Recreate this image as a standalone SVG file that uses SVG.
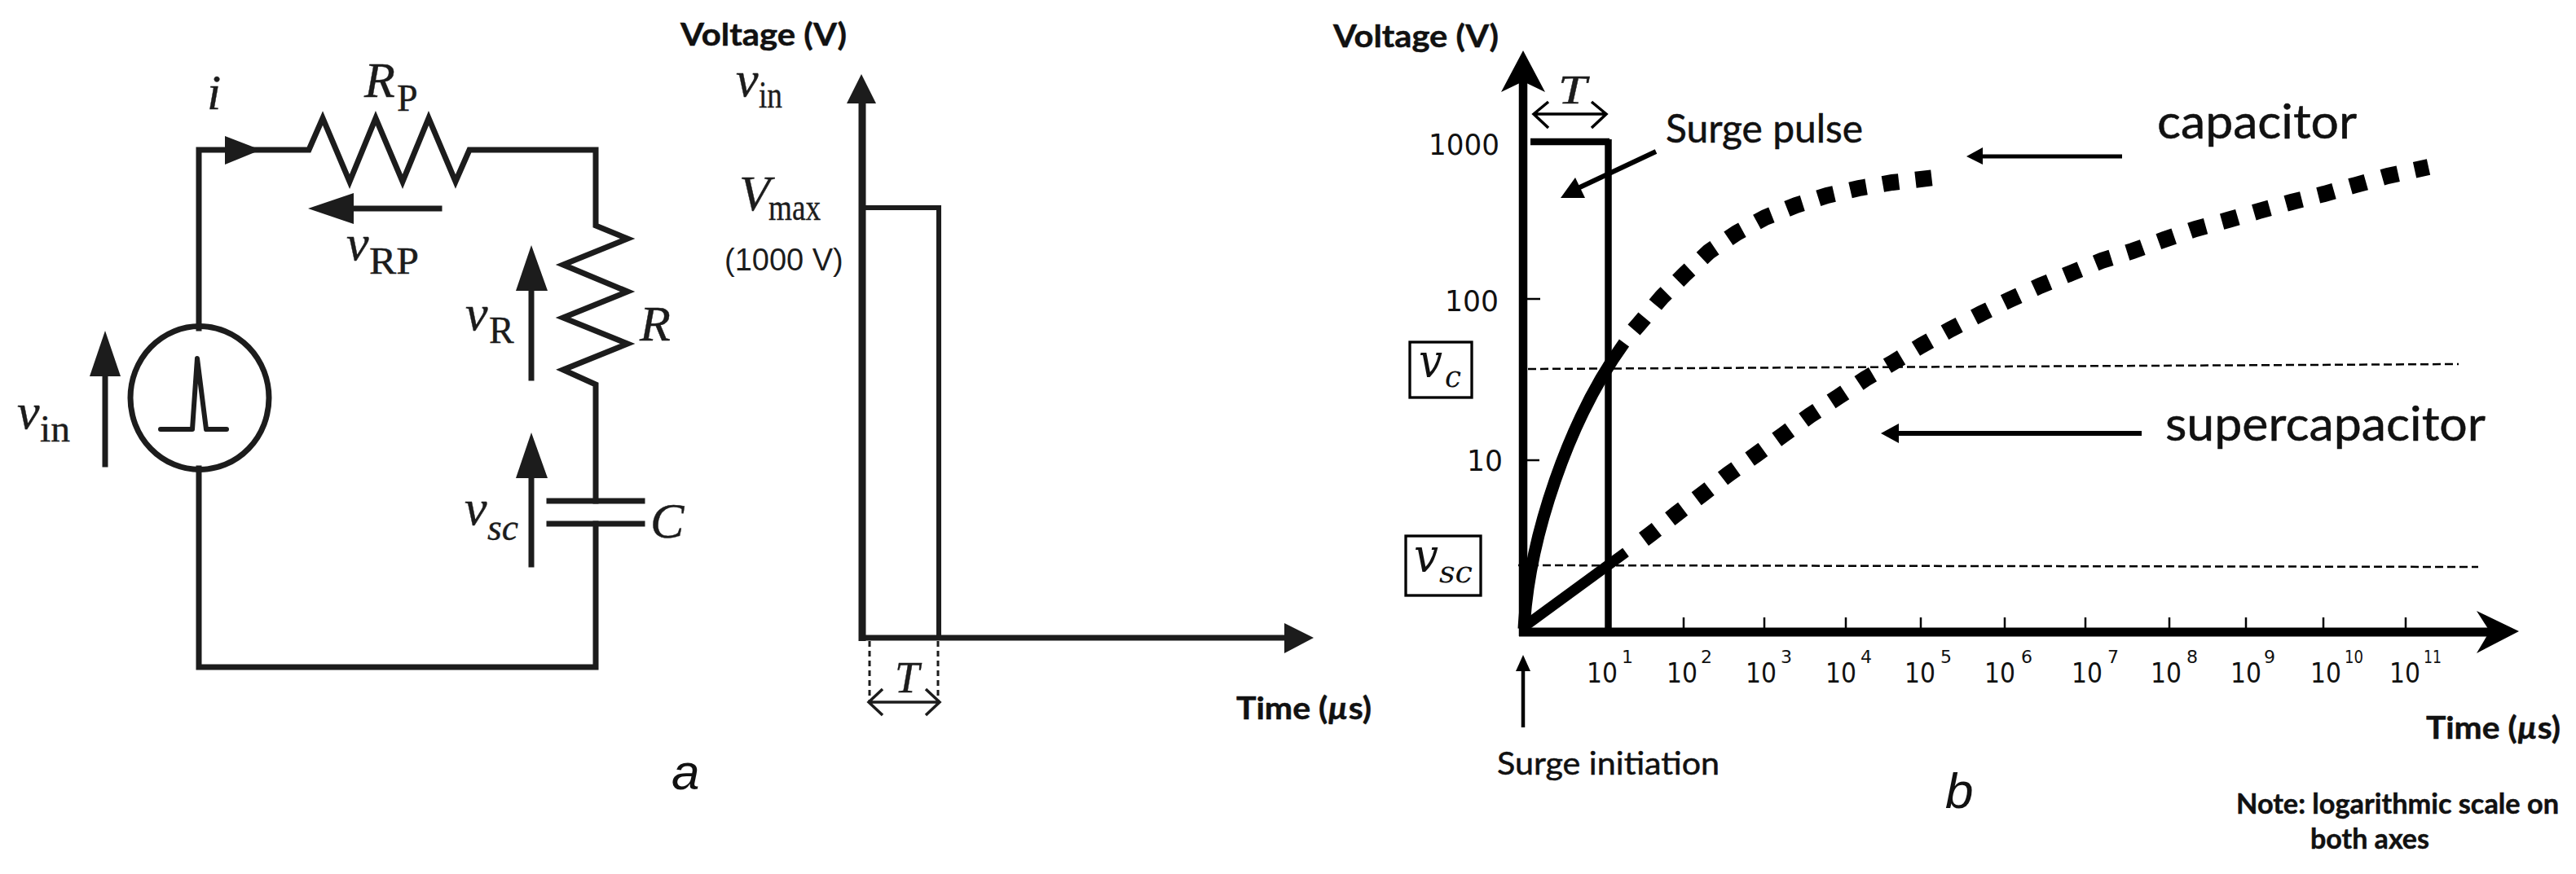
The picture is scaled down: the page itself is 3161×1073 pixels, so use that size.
<svg xmlns="http://www.w3.org/2000/svg" width="3161" height="1073" viewBox="0 0 3161 1073">
<style>
.w{fill:none;stroke:#1c1c1c;stroke-width:7;stroke-linejoin:miter;stroke-linecap:square}
.f{fill:#1c1c1c;stroke:none}
.k{fill:#000;stroke:none}
.l{fill:none;stroke:#000;stroke-linecap:butt}
.ti{font-family:"Liberation Serif",serif;font-style:italic;font-size:62px;fill:#1c1c1c;stroke:#1c1c1c;stroke-width:.4}
.tr{font-family:"Liberation Serif",serif;font-size:46px;fill:#1c1c1c;stroke:#1c1c1c;stroke-width:.4}
.ts{font-family:"Liberation Serif",serif;font-style:italic;font-size:46px;fill:#1c1c1c;stroke:#1c1c1c;stroke-width:.4}
.b{font-family:Lato,sans-serif;font-weight:700;font-size:38px;fill:#111;stroke:#111;stroke-width:.5}
.o{font-family:Lato,sans-serif;font-size:48px;fill:#111;stroke:#111;stroke-width:.5}
.d{font-family:"DejaVu Sans",sans-serif;font-size:34px;fill:#111}
.u{font-family:"DejaVu Sans",sans-serif;font-size:22px;fill:#111}
.m{font-family:"DejaVu Serif",serif;font-style:italic;fill:#111}
.p{font-family:"Liberation Sans",sans-serif;font-style:italic;font-size:62px;fill:#111}
</style>
<g id="circuit">
<g id="wires"><path class="w" d="M244 403V184H379L396 145L429 223L461 145L494 223L526 145L559 223L576 184H731V277L770 293L691 325L770 358L691 390L770 422L691 454L731 472V615M731 643V819H244V575"/></g>
<g id="source"><ellipse cx="245" cy="488.500" rx="85" ry="88" fill="none" stroke="#1c1c1c" stroke-width="7"/><path d="M197 527H236L242 440L253 527H278" fill="none" stroke="#1c1c1c" stroke-width="6" stroke-linecap="round" stroke-linejoin="round"/></g>
<g id="capacitor-symbol"><path class="w" d="M674 615H788M674 643H788" stroke-linecap="butt"/></g>
<g id="current-arrow"><polygon class="f" points="276,167 320,184 276,202"/><text class="ti" x="254" y="134">i</text></g>
<g id="rp-label"><text class="ti" x="447" y="119">R</text><text class="tr" x="487" y="136">P</text></g>
<g id="vrp"><path class="w" d="M539 256H430"/><polygon class="f" points="378,256 434,237 434,275"/><text class="ti" x="425" y="319">v</text><text class="tr" x="453" y="336" textLength="61" lengthAdjust="spacingAndGlyphs">RP</text></g>
<g id="vr"><path class="w" d="M652 464V350"/><polygon class="f" points="652,301 672,357 633,357"/><text class="ti" x="571" y="405">v</text><text class="tr" x="600" y="421">R</text><text class="ti" x="785" y="418">R</text></g>
<g id="vsc"><path class="w" d="M652 693V580"/><polygon class="f" points="652,531 672,587 633,587"/><text class="ti" x="570" y="644">v</text><text class="ts" x="598" y="663" textLength="38" lengthAdjust="spacingAndGlyphs">sc</text><text class="ti" x="798" y="660">C</text></g>
<g id="vin"><path class="w" d="M129 570V455"/><polygon class="f" points="129,406 148,462 110,462"/><text class="ti" x="21" y="526">v</text><text class="tr" x="49" y="542" textLength="37" lengthAdjust="spacingAndGlyphs">in</text></g>
<text class="p" x="824" y="969">a</text>
</g>
<g id="plot-a">
<text class="b" x="835" y="56" textLength="204" lengthAdjust="spacingAndGlyphs">Voltage (V)</text>
<g id="axes-a"><path d="M1058 120V787" fill="none" stroke="#1c1c1c" stroke-width="9"/><path d="M1054 783H1580" fill="none" stroke="#1c1c1c" stroke-width="7"/><polygon class="f" points="1057,91 1075,127 1039,127"/><polygon class="f" points="1612,783 1576,765 1576,802"/></g>
<g id="pulse-a"><path d="M1062 255H1152V783" fill="none" stroke="#1c1c1c" stroke-width="6"/></g>
<g id="t-a"><path d="M1067 787V860M1151 787V860" fill="none" stroke="#1c1c1c" stroke-width="3" stroke-dasharray="7 5"/><path d="M1083 846L1066 862L1083 878M1066 862H1153M1136 846L1153 862L1136 878" fill="none" stroke="#1c1c1c" stroke-width="3.500"/><text class="ti" x="1098" y="850" style="font-size:54px">T</text></g>
<g id="labels-a"><text class="ti" x="903" y="118">v</text><text class="tr" x="931" y="132" textLength="29" lengthAdjust="spacingAndGlyphs">in</text><text class="ti" x="907" y="258">V</text><text class="tr" x="943" y="270" textLength="64" lengthAdjust="spacingAndGlyphs">max</text>
<text x="889" y="332" font-family="Liberation Sans,sans-serif" font-size="38" fill="#1c1c1c">(1000 V)</text></g>
<text class="b" x="1517" y="883" textLength="166" lengthAdjust="spacingAndGlyphs">Time (<tspan font-style="italic">µ</tspan>s)</text>
</g>
<g id="plot-b">
<text class="b" x="1636" y="58" textLength="203" lengthAdjust="spacingAndGlyphs">Voltage (V)</text>
<g id="guides"><path class="l" stroke-width="2.500" stroke-dasharray="10 5" d="M1875 453L3017 447M1863 694L3041 696"/></g>
<g id="ticks"><path class="l" stroke-width="2.500" d="M1874 367H1890M1874 565H1889M2066 758V775M2165 758V775M2265 758V775M2357 758V775M2460 758V775M2559 758V775M2662 758V775M2756 758V775M2851 758V775M2952 758V775"/></g>
<g id="axes-b"><path class="l" stroke-width="10.500" d="M1869 100V781"/><path class="l" stroke-width="11" d="M1864 776H3060"/><polygon class="k" points="1869,62 1896,113 1869,100 1842,113"/><polygon class="k" points="3091,775 3039,802 3055,775 3039,750"/></g>
<g id="pulse-b"><path class="l" stroke-width="8.500" stroke-linecap="round" d="M1878 174H1975"/><path class="l" stroke-width="8.500" d="M1973.500 171V775"/></g>
<g id="curve-capacitor"><path class="l" stroke-width="15" d="M1870 772C1876 660 1925 515 1993 421"/><path class="l" stroke-width="20" stroke-dasharray="20 20.500" d="M2005 405L2012 397L2039 365L2067 337L2097 309L2131 286L2166 267L2204 252L2242 240L2281 231L2322 224L2374 218"/></g>
<g id="curve-supercapacitor"><path class="l" stroke-width="13" d="M1872 768L1995 678"/><path class="l" stroke-width="20" stroke-dasharray="20 20.800" d="M2017 662L2025 656L2057 631L2090 606L2121 582L2155 558L2188 534L2221 510L2256 487L2289 465L2323 445L2358 424L2394 404L2431 385L2466 368L2503 351L2542 335L2579 320L2617 308L2656 294L2694 281L2734 270L2772 259L2812 248L2852 238L2891 227L2930 216L2980 205"/></g>
<g id="t-b"><path class="l" stroke-width="3.500" d="M1900 125L1882 140L1900 157M1882 140H1971M1953 125L1971 140L1953 157"/><text class="ti" x="1912" y="127" style="font-size:50px" textLength="35" lengthAdjust="spacingAndGlyphs">T</text></g>
<g id="surge-pulse"><path class="l" stroke-width="6" d="M2032 186L1930 234"/><polygon class="k" points="1915,243 1933,218 1945,243"/><text class="o" x="2044" y="175" textLength="242" lengthAdjust="spacingAndGlyphs">Surge pulse</text></g>
<g id="surge-initiation"><path class="l" stroke-width="4.500" d="M1869 893V820"/><polygon class="k" points="1869,804 1878,824 1860,824"/><text class="o" x="1837" y="951" style="font-size:38px" textLength="273" lengthAdjust="spacingAndGlyphs">Surge initiation</text></g>
<g id="y-labels"><text class="d" x="1753" y="190" style="font-size:36px" textLength="87" lengthAdjust="spacingAndGlyphs">1000</text><text class="d" x="1773" y="382" style="font-size:36px" textLength="66" lengthAdjust="spacingAndGlyphs">100</text><text class="d" x="1800" y="578" style="font-size:36px" textLength="44" lengthAdjust="spacingAndGlyphs">10</text></g>
<g id="vc-box"><rect x="1730" y="420" width="76" height="68" fill="#fff" stroke="#000" stroke-width="3.300"/><text class="m" x="1741" y="463" font-size="58" textLength="29" lengthAdjust="spacingAndGlyphs">v</text><text class="m" x="1773" y="475" font-size="38" textLength="20" lengthAdjust="spacingAndGlyphs">c</text></g>
<g id="vsc-box"><rect x="1725" y="658" width="92" height="73" fill="#fff" stroke="#000" stroke-width="3.300"/><text class="m" x="1735" y="702" font-size="58" textLength="30" lengthAdjust="spacingAndGlyphs">v</text><text class="m" x="1766" y="715" font-size="38" textLength="41" lengthAdjust="spacingAndGlyphs">sc</text></g>
<g id="x-labels">
<text class="d" x="1947" y="838" textLength="38" lengthAdjust="spacingAndGlyphs">10</text><text class="u" x="1990" y="814">1</text>
<text class="d" x="2045" y="838" textLength="38" lengthAdjust="spacingAndGlyphs">10</text><text class="u" x="2087" y="814">2</text>
<text class="d" x="2142" y="838" textLength="38" lengthAdjust="spacingAndGlyphs">10</text><text class="u" x="2185" y="814">3</text>
<text class="d" x="2240" y="838" textLength="38" lengthAdjust="spacingAndGlyphs">10</text><text class="u" x="2283" y="814">4</text>
<text class="d" x="2337" y="838" textLength="38" lengthAdjust="spacingAndGlyphs">10</text><text class="u" x="2381" y="814">5</text>
<text class="d" x="2435" y="838" textLength="38" lengthAdjust="spacingAndGlyphs">10</text><text class="u" x="2480" y="814">6</text>
<text class="d" x="2542" y="838" textLength="38" lengthAdjust="spacingAndGlyphs">10</text><text class="u" x="2586" y="814">7</text>
<text class="d" x="2639" y="838" textLength="38" lengthAdjust="spacingAndGlyphs">10</text><text class="u" x="2683" y="814">8</text>
<text class="d" x="2737" y="838" textLength="38" lengthAdjust="spacingAndGlyphs">10</text><text class="u" x="2778" y="814">9</text>
<text class="d" x="2835" y="838" textLength="38" lengthAdjust="spacingAndGlyphs">10</text><text class="u" x="2877" y="814" textLength="23" lengthAdjust="spacingAndGlyphs">10</text>
<text class="d" x="2932" y="838" textLength="38" lengthAdjust="spacingAndGlyphs">10</text><text class="u" x="2974" y="814" textLength="22" lengthAdjust="spacingAndGlyphs">11</text>
</g>
<g id="capacitor-label"><path class="l" stroke-width="5" d="M2604 192H2425"/><polygon class="k" points="2413,192 2433,181 2433,202"/><text class="o" x="2647" y="170" style="font-size:58px" textLength="245" lengthAdjust="spacingAndGlyphs">capacitor</text></g>
<g id="supercapacitor-label"><path class="l" stroke-width="6" d="M2628 532H2320"/><polygon class="k" points="2308,532 2330,520 2330,544"/><text class="o" x="2657" y="541" style="font-size:58px" textLength="393" lengthAdjust="spacingAndGlyphs">supercapacitor</text></g>
<text class="b" x="2977" y="907" textLength="165" lengthAdjust="spacingAndGlyphs">Time (<tspan font-style="italic">µ</tspan>s)</text>
<text class="p" x="2387" y="992">b</text>
<text class="b" x="2744" y="999" style="font-size:34px" textLength="396" lengthAdjust="spacingAndGlyphs">Note: logarithmic scale on</text>
<text class="b" x="2835" y="1042" style="font-size:34px" textLength="146" lengthAdjust="spacingAndGlyphs">both axes</text>
</g>
</svg>
